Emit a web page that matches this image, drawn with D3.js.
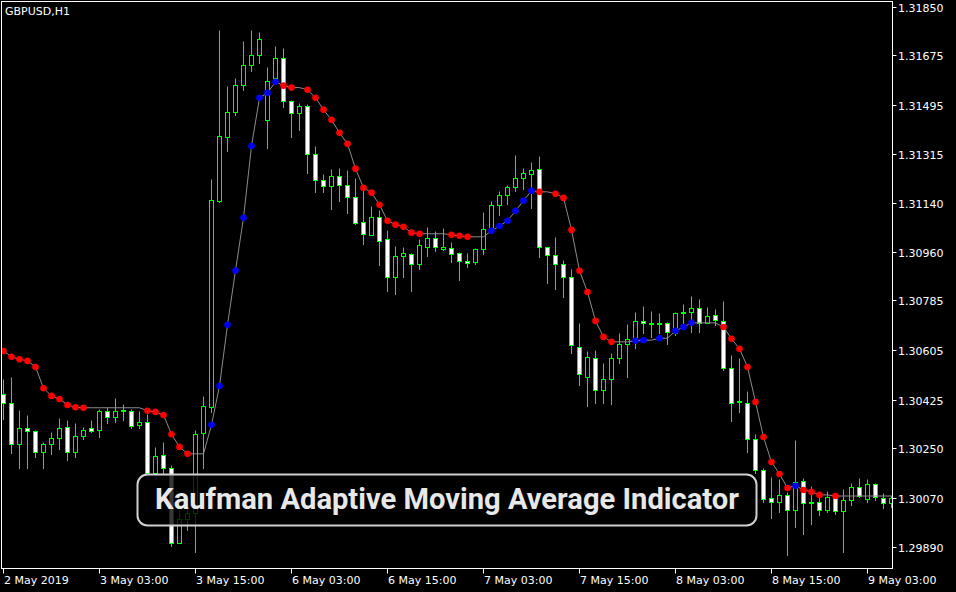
<!DOCTYPE html>
<html><head><meta charset="utf-8">
<script src="https://cdn.jsdelivr.net/npm/d3@7"></script>
<style>html,body{margin:0;padding:0;background:#000;overflow:hidden}</style>
</head><body><svg id="c" width="956" height="592"></svg>
<script>
const symbolTitle = "GBPUSD,H1";
const caption = "Kaufman Adaptive Moving Average Indicator";

const openP = [1.30445,1.30412,1.30266,1.30321,1.30310,1.30234,1.30266,1.30285,1.30325,1.30237,
1.30292,1.30321,1.30314,1.30386,1.30364,1.30383,1.30383,1.30332,1.30343,1.30161,
1.30224,1.30176,1.29907,1.29991,1.30016,1.30303,1.30399,1.31147,1.31379,1.31467,
1.31565,1.31638,1.31674,1.31439,1.31591,1.31663,1.31508,1.31464,1.31489,1.31315,
1.31221,1.31199,1.31235,1.31204,1.31159,1.31068,1.31023,1.31087,1.31007,1.30871,
1.30945,1.30953,1.30918,1.30980,1.31010,1.30972,1.30975,1.30957,1.30930,1.30923,
1.30970,1.31044,1.31130,1.31166,1.31195,1.31228,1.31242,1.31261,1.30978,1.30949,
1.30916,1.30869,1.30618,1.30508,1.30578,1.30462,1.30502,1.30575,1.30626,1.30644,
1.30709,1.30705,1.30705,1.30705,1.30666,1.30738,1.30745,1.30756,1.30705,1.30731,
1.30711,1.30539,1.30416,1.30415,1.30281,1.30172,1.30067,1.30056,1.30078,1.30027,
1.30130,1.30049,1.30055,1.30027,1.30071,1.30022,1.30063,1.30109,1.30065,1.30118,
1.30067,1.30049];
const highP = [1.30502,1.30508,1.30387,1.30369,1.30315,1.30271,1.30307,1.30358,1.30351,1.30339,
1.30327,1.30351,1.30392,1.30397,1.30431,1.30409,1.30390,1.30383,1.30375,1.30254,
1.30272,1.30188,1.30024,1.30049,1.30315,1.30438,1.31224,1.31766,1.31564,1.31591,
1.31726,1.31766,1.31758,1.31633,1.31708,1.31700,1.31512,1.31500,1.31497,1.31345,
1.31243,1.31261,1.31264,1.31258,1.31228,1.31185,1.31127,1.31113,1.31040,1.30983,
1.30979,1.30956,1.31008,1.31052,1.31038,1.31049,1.30997,1.30962,1.30956,1.30974,
1.31107,1.31146,1.31183,1.31204,1.31312,1.31265,1.31287,1.31309,1.30980,1.31015,
1.30931,1.30901,1.30704,1.30602,1.30605,1.30557,1.30593,1.30666,1.30699,1.30742,
1.30765,1.30746,1.30738,1.30708,1.30742,1.30774,1.30801,1.30790,1.30760,1.30753,
1.30783,1.30587,1.30575,1.30457,1.30300,1.30179,1.30145,1.30137,1.30089,1.30278,
1.30142,1.30113,1.30073,1.30093,1.30087,1.30102,1.30124,1.30141,1.30137,1.30124,
1.30087,1.30081];
const lowP = [1.30357,1.30232,1.30176,1.30179,1.30218,1.30176,1.30230,1.30248,1.30208,1.30216,
1.30281,1.30309,1.30290,1.30339,1.30346,1.30351,1.30323,1.30323,1.30158,1.30158,
1.30160,1.29895,1.29904,1.29952,1.29873,1.30176,1.30381,1.31143,1.31328,1.31458,
1.31548,1.31618,1.31645,1.31339,1.31585,1.31485,1.31379,1.31403,1.31248,1.31177,
1.31179,1.31118,1.31147,1.31101,1.31062,1.30990,1.31021,1.30913,1.30820,1.30807,
1.30871,1.30820,1.30900,1.30947,1.30964,1.30968,1.30924,1.30859,1.30907,1.30919,
1.30953,1.31038,1.31095,1.31135,1.31183,1.31188,1.31119,1.30943,1.30849,1.30825,
1.30798,1.30593,1.30478,1.30402,1.30413,1.30412,1.30409,1.30557,1.30508,1.30613,
1.30666,1.30653,1.30666,1.30629,1.30659,1.30702,1.30669,1.30671,1.30702,1.30696,
1.30532,1.30347,1.30379,1.30236,1.30160,1.30055,1.29997,1.30018,1.29861,1.29964,
1.29940,1.29976,1.30006,1.30017,1.30012,1.29873,1.30043,1.30073,1.30055,1.30061,
1.30031,1.30036];
const closeP = [1.30412,1.30266,1.30321,1.30311,1.30234,1.30263,1.30285,1.30321,1.30237,1.30292,
1.30317,1.30311,1.30386,1.30364,1.30386,1.30387,1.30330,1.30346,1.30161,1.30220,
1.30176,1.29907,1.29991,1.30016,1.30300,1.30402,1.31149,1.31381,1.31467,1.31566,
1.31638,1.31674,1.31732,1.31580,1.31663,1.31508,1.31464,1.31489,1.31315,1.31221,
1.31200,1.31235,1.31204,1.31159,1.31067,1.31025,1.31087,1.31001,1.30871,1.30945,
1.30956,1.30916,1.30986,1.31010,1.30980,1.30980,1.30954,1.30929,1.30922,1.30970,
1.31043,1.31130,1.31166,1.31195,1.31228,1.31246,1.31257,1.30978,1.30949,1.30917,
1.30869,1.30622,1.30517,1.30580,1.30462,1.30502,1.30575,1.30627,1.30644,1.30709,
1.30702,1.30698,1.30698,1.30669,1.30738,1.30743,1.30756,1.30705,1.30728,1.30713,
1.30539,1.30415,1.30420,1.30281,1.30172,1.30064,1.30056,1.30078,1.30027,1.30125,
1.30049,1.30055,1.30027,1.30071,1.30022,1.30063,1.30107,1.30075,1.30118,1.30071,
1.30049,1.30067];
const kamaP = [1.30602,1.30581,1.30572,1.30566,1.30544,1.30467,1.30439,1.30428,1.30406,1.30398,
1.30396,1.30396,1.30396,1.30396,1.30396,1.30396,1.30396,1.30396,1.30385,1.30381,
1.30370,1.30300,1.30254,1.30229,1.30229,1.30229,1.30334,1.30475,1.30697,1.30894,
1.31085,1.31345,1.31520,1.31538,1.31578,1.31564,1.31557,1.31557,1.31549,1.31520,
1.31477,1.31440,1.31393,1.31353,1.31263,1.31194,1.31176,1.31132,1.31074,1.31060,
1.31052,1.31031,1.31027,1.31027,1.31027,1.31027,1.31023,1.31020,1.31016,1.31016,
1.31016,1.31038,1.31055,1.31074,1.31110,1.31147,1.31183,1.31179,1.31179,1.31172,
1.31157,1.31041,1.30893,1.30816,1.30711,1.30653,1.30635,1.30635,1.30635,1.30639,
1.30641,1.30641,1.30648,1.30648,1.30675,1.30689,1.30704,1.30704,1.30704,1.30704,
1.30689,1.30646,1.30610,1.30544,1.30417,1.30290,1.30199,1.30156,1.30105,1.30113,
1.30098,1.30091,1.30080,1.30080,1.30076,1.30076,1.30076,1.30076,1.30076,1.30076,
1.30076,1.30076];

const priceTicks = [1.31850,1.31675,1.31495,1.31315,1.31140,1.30960,1.30785,1.30605,1.30425,1.30250,1.30070,1.29890];
const timeTickBars = [0,12,24,36,48,60,72,84,96,108];
const timeTickLabels = ["2 May 2019","3 May 03:00","3 May 15:00","6 May 03:00","6 May 15:00","7 May 03:00","7 May 15:00","8 May 03:00","8 May 15:00","9 May 03:00"];

const W = 956, H = 592;
const plot = {l: 1.5, t: 1.5, r: 892.5, b: 568.5};
const svg = d3.select("#c");
svg.append("rect").attr("width", W).attr("height", H).attr("fill", "#000");

const n = openP.length;
const x = d3.scaleLinear().domain([0, n - 1]).range([3, 3 + 8 * (n - 1)]);
const y = d3.scaleLinear().domain([priceTicks[priceTicks.length - 1], priceTicks[0]]).range([547.3, 6.8]);
const py = v => Math.round(y(v)) + 0.5;

svg.append("defs").append("clipPath").attr("id", "pc")
  .append("rect").attr("x", 2).attr("y", 2).attr("width", 890).attr("height", 566);

const g = svg.append("g").attr("clip-path", "url(#pc)");
const LIME = "#00ff00";

const bars = d3.range(n);
// wicks
g.selectAll("line.w").data(bars).join("line")
  .attr("x1", i => x(i) + 0.5).attr("x2", i => x(i) + 0.5)
  .attr("y1", i => py(highP[i])).attr("y2", i => py(lowP[i]) + 0.5)
  .attr("stroke", LIME).attr("stroke-width", 1);
// bodies
g.selectAll("rect.b").data(bars).join("rect")
  .attr("x", i => x(i) - 1.5)
  .attr("y", i => py(Math.max(openP[i], closeP[i])))
  .attr("width", 4)
  .attr("height", i => Math.max(py(Math.min(openP[i], closeP[i])) - py(Math.max(openP[i], closeP[i])), 1))
  .attr("fill", i => closeP[i] < openP[i] ? "#ffffff" : "#000000")
  .attr("stroke", LIME).attr("stroke-width", 1);

// KAMA line
g.append("path").datum(bars)
  .attr("d", d3.line().x(i => x(i) + 0.5).y(i => y(kamaP[i])))
  .attr("fill", "none").attr("stroke", "#8c8c8c").attr("stroke-width", 1);

// KAMA dots (red falling, blue rising, none when unchanged)
const dotData = bars.map(i => {
  const d = i === 0 ? kamaP[1] - kamaP[0] : kamaP[i] - kamaP[i - 1];
  return {i, dir: Math.abs(d) < 1e-7 ? 0 : (d > 0 ? 1 : -1)};
}).filter(d => d.dir !== 0);
g.selectAll("circle.k").data(dotData).join("circle")
  .attr("cx", d => x(d.i) + 0.5).attr("cy", d => y(kamaP[d.i]))
  .attr("r", 3.3)
  .attr("fill", d => d.dir > 0 ? "#0000ff" : "#ff0000");

// frame
svg.append("rect").attr("x", plot.l).attr("y", plot.t)
  .attr("width", plot.r - plot.l).attr("height", plot.b - plot.t)
  .attr("fill", "none").attr("stroke", "#ffffff").attr("stroke-width", 1);

const FONT = "'DejaVu Sans', sans-serif";
// price axis
const pa = svg.append("g");
priceTicks.forEach(p => {
  const yy = py(p);
  pa.append("line").attr("x1", plot.r).attr("x2", plot.r + 4).attr("y1", yy).attr("y2", yy)
    .attr("stroke", "#fff");
  pa.append("text").attr("x", 898).attr("y", yy + 4).text(p.toFixed(5))
    .attr("fill", "#fff").attr("font-family", FONT).attr("font-size", 11);
});
// time axis
const ta = svg.append("g");
timeTickBars.forEach((b, k) => {
  const xx = Math.round(x(b)) + 0.5;
  ta.append("line").attr("x1", xx).attr("x2", xx).attr("y1", plot.b).attr("y2", plot.b + 5)
    .attr("stroke", "#fff");
  ta.append("text").attr("x", xx + 0.5).attr("y", 584).text(timeTickLabels[k])
    .attr("fill", "#fff").attr("font-family", FONT).attr("font-size", 11);
});
// title
svg.append("text").attr("x", 5).attr("y", 15).text(symbolTitle)
  .attr("fill", "#fff").attr("font-family", FONT).attr("font-size", 11);

// caption box
svg.append("rect").attr("x", 137.5).attr("y", 474.5).attr("width", 619).attr("height", 51)
  .attr("rx", 10).attr("ry", 10)
  .attr("fill", "rgba(0,0,0,0.78)").attr("stroke", "#d0d0d0").attr("stroke-width", 2);
const cap = svg.append("text").attr("x", 447).attr("y", 509).attr("text-anchor", "middle")
  .attr("fill", "#e8e8e8").attr("font-family", "Roboto, 'Liberation Sans', sans-serif")
  .attr("font-weight", 700).attr("font-size", 27).text(caption);
const len = cap.node().getComputedTextLength();
if (len > 0) cap.attr("font-size", 27 * 584 / len);
</script></body></html>
